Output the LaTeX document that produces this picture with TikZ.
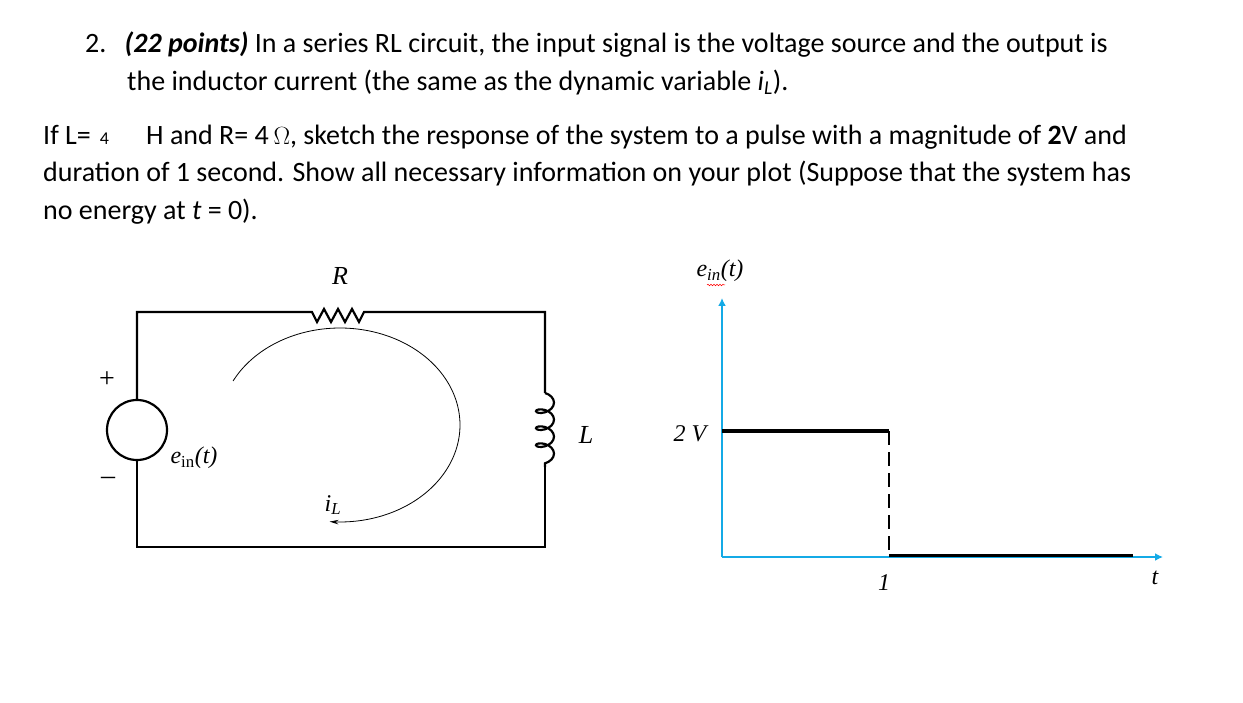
\documentclass[tikz,border=0pt]{standalone}
\usepackage{fontspec}
\setmainfont{Carlito}
\newfontfamily\serif{Liberation Serif}
\usetikzlibrary{decorations.pathmorphing,arrows.meta}
\definecolor{axblue}{RGB}{20,170,230}
\begin{document}
\begin{tikzpicture}[x=1pt,y=-1pt,
  txt/.style={anchor=west,inner sep=0pt,font=\fontsize{28}{30}\selectfont},
  lab/.style={inner sep=0pt,font=\serif\fontsize{24}{24}\selectfont\itshape},
  wire/.style={line width=2.2pt},
  ax/.style={axblue,line width=2.4pt,-{Latex[length=8pt,width=8pt]}}]
\useasboundingbox (0,0) rectangle (1243,703);
\node[txt] (t1) at (85,45) {2.\hspace{0.35em} \textbf{\textit{(22 points)}} In a series RL circuit, the input signal is the voltage source and the output is};
\node[txt] (t2) at (127,83) {the inductor current (the same as the dynamic variable \textit{i}\textsubscript{\textit{L}}).};
\node[txt] (t3) at (43,137) {If L= \hspace{0.1em}{\fontsize{18}{20}\selectfont 4}\hspace{1.1em} H and R= 4\,$\Omega$, sketch the response of the system to a pulse with a magnitude of \textbf{2}V and};
\node[txt] (t4) at (43,174) {duration of 1 second. Show all necessary information on your plot (Suppose that the system has};
\node[txt] (t5) at (43,212) {no energy at \textit{t} = 0).};
% circuit
\coordinate (tl) at (137,312); \coordinate (tr) at (545,312);
\coordinate (bl) at (137,547); \coordinate (br) at (545,547);
\node[draw,circle,wire,minimum size=60pt,inner sep=0pt] (src) at (137,430) {};
\draw[wire] (src.north) -- (tl) -- (312,312) -- ++(5,10) -- ++(7,-13) -- ++(7,13) -- ++(7,-13) -- ++(7,13) -- ++(7,-13) -- ++(7,13) -- ++(5,-10) -- (tr) -- (545,393);
\draw[wire,decorate,decoration={coil,aspect=0.6,amplitude=9pt,segment length=17pt}] (545,393) -- (545,467);
\draw[wire] (545,467) -- (br) -- (bl) -- (src.south);
\draw[line width=0.8pt,<-,>={Stealth[length=9pt,width=4.5pt]}] plot[domain=-95:153,samples=80,smooth] ({340+120*cos(\x)},{425-97*sin(\x)});
\node[lab,font=\serif\fontsize{26}{26}\selectfont\itshape] (R) at (340,276) {R};
\node[lab,font=\serif\fontsize{26}{26}\selectfont\itshape] (L) at (586,435) {L};
\node[lab,font=\serif\fontsize{28}{28}\selectfont] (plus) at (107,380) {+};
\node[lab,font=\serif\fontsize{28}{28}\selectfont] (minus) at (108,481) {\textendash};
\node[lab] (e) at (194,458) {e\textsubscript{\upshape in}(t)};
\node[lab] (iL) at (333,505) {i\textsubscript{L}};
% plot
\coordinate (O) at (722,557);
\coordinate (yt) at (722,298); \coordinate (xt) at (1163,557);
\draw[ax] (O) -- (yt);
\draw[ax] (O) -- (xt);
\draw[line width=3.2pt] (722,431) -- (889,431);
\draw[line width=2.2pt,dash pattern=on 14pt off 7pt] (889,431) -- (889,557);
\draw[line width=3.8pt] (889,555.5) -- (1133,555.5);
\node[lab] (twoV) at (690,434) {2 V};
\node[lab] (one) at (884,583) {1};
\node[lab] (tt) at (1155,578) {t};
\node[lab] (ein) at (720,271) {e\textsubscript{in}(t)};
\draw[red,line width=0.5pt,decorate,decoration={snake,amplitude=0.8pt,segment length=3pt}] (707,285) -- (725,285);
\end{tikzpicture}
\end{document}
